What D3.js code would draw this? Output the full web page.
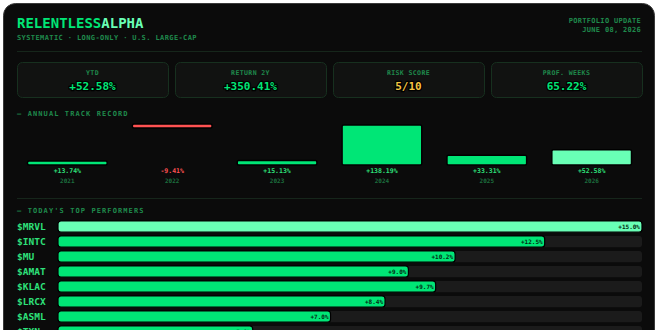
<!DOCTYPE html>
<html lang="en">
<head>
<meta charset="UTF-8">
<title>RelentlessAlpha</title>
<script src="https://d3js.org/d3.v7.min.js"></script>
<style>
  * { margin: 0; padding: 0; box-sizing: border-box; }
  body { background: #ffffff; width: 660px; height: 330px; overflow: hidden; }
  svg { display: block; font-family: 'DejaVu Sans Mono', monospace; font-weight: bold; }
</style>
</head>
<body>
<div id="chart"></div>
<script>
  // stat cards
  const statLabels = ["YTD", "RETURN 2Y", "RISK SCORE", "PROF. WEEKS"];
  const statValues = ["+52.58%", "+350.41%", "5/10", "65.22%"];

  // annual track record
  const years = ["2021", "2022", "2023", "2024", "2025", "2026"];
  const annualReturns = [13.74, -9.41, 15.13, 138.19, 33.31, 52.58];

  // today's top performers
  const tickers = ["$MRVL", "$INTC", "$MU", "$AMAT", "$KLAC", "$LRCX", "$ASML", "$TXN"];
  const dayChanges = [15.0, 12.5, 10.2, 9.0, 9.7, 8.4, 7.0, 5.0];

  const W = 660, H = 330;
  const green = "#00e676", mint = "#69ffb6", dim = "#1f8a4c", red = "#ff5252", amber = "#f5c542";

  const svg = d3.select("#chart").append("svg")
    .attr("width", W).attr("height", H);

  // panel
  svg.append("rect")
    .attr("x", 3.5).attr("y", 3.5).attr("width", 651).attr("height", 360)
    .attr("rx", 12).attr("fill", "#0b0b0b").attr("stroke", "#3a3a3a");

  // header
  const title = svg.append("text").attr("x", 17).attr("y", 28)
    .attr("font-size", 14).attr("fill", green);
  title.append("tspan").text("RELENTLESS");
  title.append("tspan").attr("fill", mint).text("ALPHA");

  svg.append("text").attr("x", 17).attr("y", 40)
    .attr("font-size", 7).attr("letter-spacing", 0.4).attr("fill", dim)
    .text("SYSTEMATIC · LONG-ONLY · U.S. LARGE-CAP");

  svg.append("text").attr("x", 641).attr("y", 23).attr("text-anchor", "end")
    .attr("font-size", 7).attr("letter-spacing", 0.3).attr("fill", dim)
    .text("PORTFOLIO UPDATE");
  svg.append("text").attr("x", 641).attr("y", 32).attr("text-anchor", "end")
    .attr("font-size", 7).attr("letter-spacing", 0.3).attr("fill", dim)
    .text("JUNE 08, 2026");

  svg.append("line").attr("x1", 17).attr("x2", 642).attr("y1", 51.5).attr("y2", 51.5)
    .attr("stroke", "#16261b");

  // stat cards
  const xs = d3.scaleBand().domain(statLabels).range([17, 649]);
  const cw = xs.bandwidth() - 7;
  const card = svg.selectAll(".stat").data(statLabels).join("g")
    .attr("transform", d => `translate(${xs(d)},62)`);
  card.append("rect")
    .attr("x", 0.5).attr("y", 0.5).attr("width", cw).attr("height", 35)
    .attr("rx", 5).attr("fill", "#111211").attr("stroke", "#17301f");
  card.append("text")
    .attr("x", cw / 2).attr("y", 13).attr("text-anchor", "middle")
    .attr("font-size", 6.5).attr("letter-spacing", 0.4).attr("fill", dim)
    .text(d => d);
  card.append("text")
    .attr("x", cw / 2).attr("y", 28).attr("text-anchor", "middle")
    .attr("font-size", 11).attr("fill", (d, i) => i === 2 ? amber : green)
    .attr("stroke", "#000").attr("stroke-width", 2.5).attr("paint-order", "stroke")
    .text((d, i) => statValues[i]);

  // section titles
  function sectionTitle(y, t) {
    svg.append("text").attr("x", 17).attr("y", y)
      .attr("font-size", 7).attr("letter-spacing", 1.1).attr("fill", dim)
      .text("— " + t);
  }
  sectionTitle(116, "ANNUAL TRACK RECORD");
  sectionTitle(213, "TODAY'S TOP PERFORMERS");

  // annual bars
  const xa = d3.scaleBand().domain(years).range([17, 642]).paddingInner(0.24).paddingOuter(0.1);
  const ya = d3.scaleLinear().domain([0, d3.max(annualReturns)]).range([165, 125]);
  const col = svg.selectAll(".yr").data(years).join("g")
    .attr("transform", d => `translate(${xa(d)},0)`);
  col.append("rect")
    .attr("width", xa.bandwidth())
    .attr("y", (d, i) => annualReturns[i] >= 0 ? ya(annualReturns[i]) : ya.range()[1] - 1)
    .attr("height", (d, i) => Math.max(4, ya(0) - ya(Math.abs(annualReturns[i]))))
    .attr("rx", 1.5)
    .attr("fill", (d, i) => annualReturns[i] < 0 ? red : (i === years.length - 1 ? mint : green))
    .attr("stroke", "#000").attr("stroke-width", 1.5);
  col.append("text")
    .attr("x", xa.bandwidth() / 2).attr("y", 173).attr("text-anchor", "middle")
    .attr("font-size", 6.5)
    .attr("fill", (d, i) => annualReturns[i] < 0 ? red : "#2ee07a")
    .text((d, i) => (annualReturns[i] >= 0 ? "+" : "") + annualReturns[i].toFixed(2) + "%");
  col.append("text")
    .attr("x", xa.bandwidth() / 2).attr("y", 183).attr("text-anchor", "middle")
    .attr("font-size", 6).attr("fill", "#1c6e3e")
    .text(d => d);

  svg.append("line").attr("x1", 17).attr("x2", 642).attr("y1", 198.5).attr("y2", 198.5)
    .attr("stroke", "#16261b");

  // top performers
  const xp = d3.scaleLinear().domain([0, d3.max(dayChanges)]).range([58, 642]);
  const yp = d3.scaleBand().domain(tickers).range([219, 339]).paddingInner(0.25).paddingOuter(0.125);
  const row = svg.selectAll(".tk").data(tickers).join("g")
    .attr("transform", d => `translate(0,${yp(d)})`);
  row.append("rect")
    .attr("x", xp(0)).attr("width", xp.range()[1] - xp(0)).attr("height", yp.bandwidth())
    .attr("rx", 3).attr("fill", "#1b1b1b");
  row.append("rect")
    .attr("x", xp(0)).attr("width", (d, i) => xp(dayChanges[i]) - xp(0)).attr("height", yp.bandwidth())
    .attr("rx", 3).attr("fill", (d, i) => i === 0 ? mint : green)
    .attr("stroke", "#000").attr("stroke-width", 1.2);
  row.append("text")
    .attr("x", 17).attr("y", yp.bandwidth() / 2 + 3.3)
    .attr("font-size", 9.5).attr("fill", "#2ee07a")
    .text(d => d);
  row.append("text")
    .attr("x", (d, i) => xp(dayChanges[i]) - 2).attr("y", yp.bandwidth() / 2 + 2.2)
    .attr("text-anchor", "end").attr("font-size", 6).attr("fill", "#062a14")
    .text((d, i) => "+" + dayChanges[i].toFixed(1) + "%");
</script>
</body>
</html>
